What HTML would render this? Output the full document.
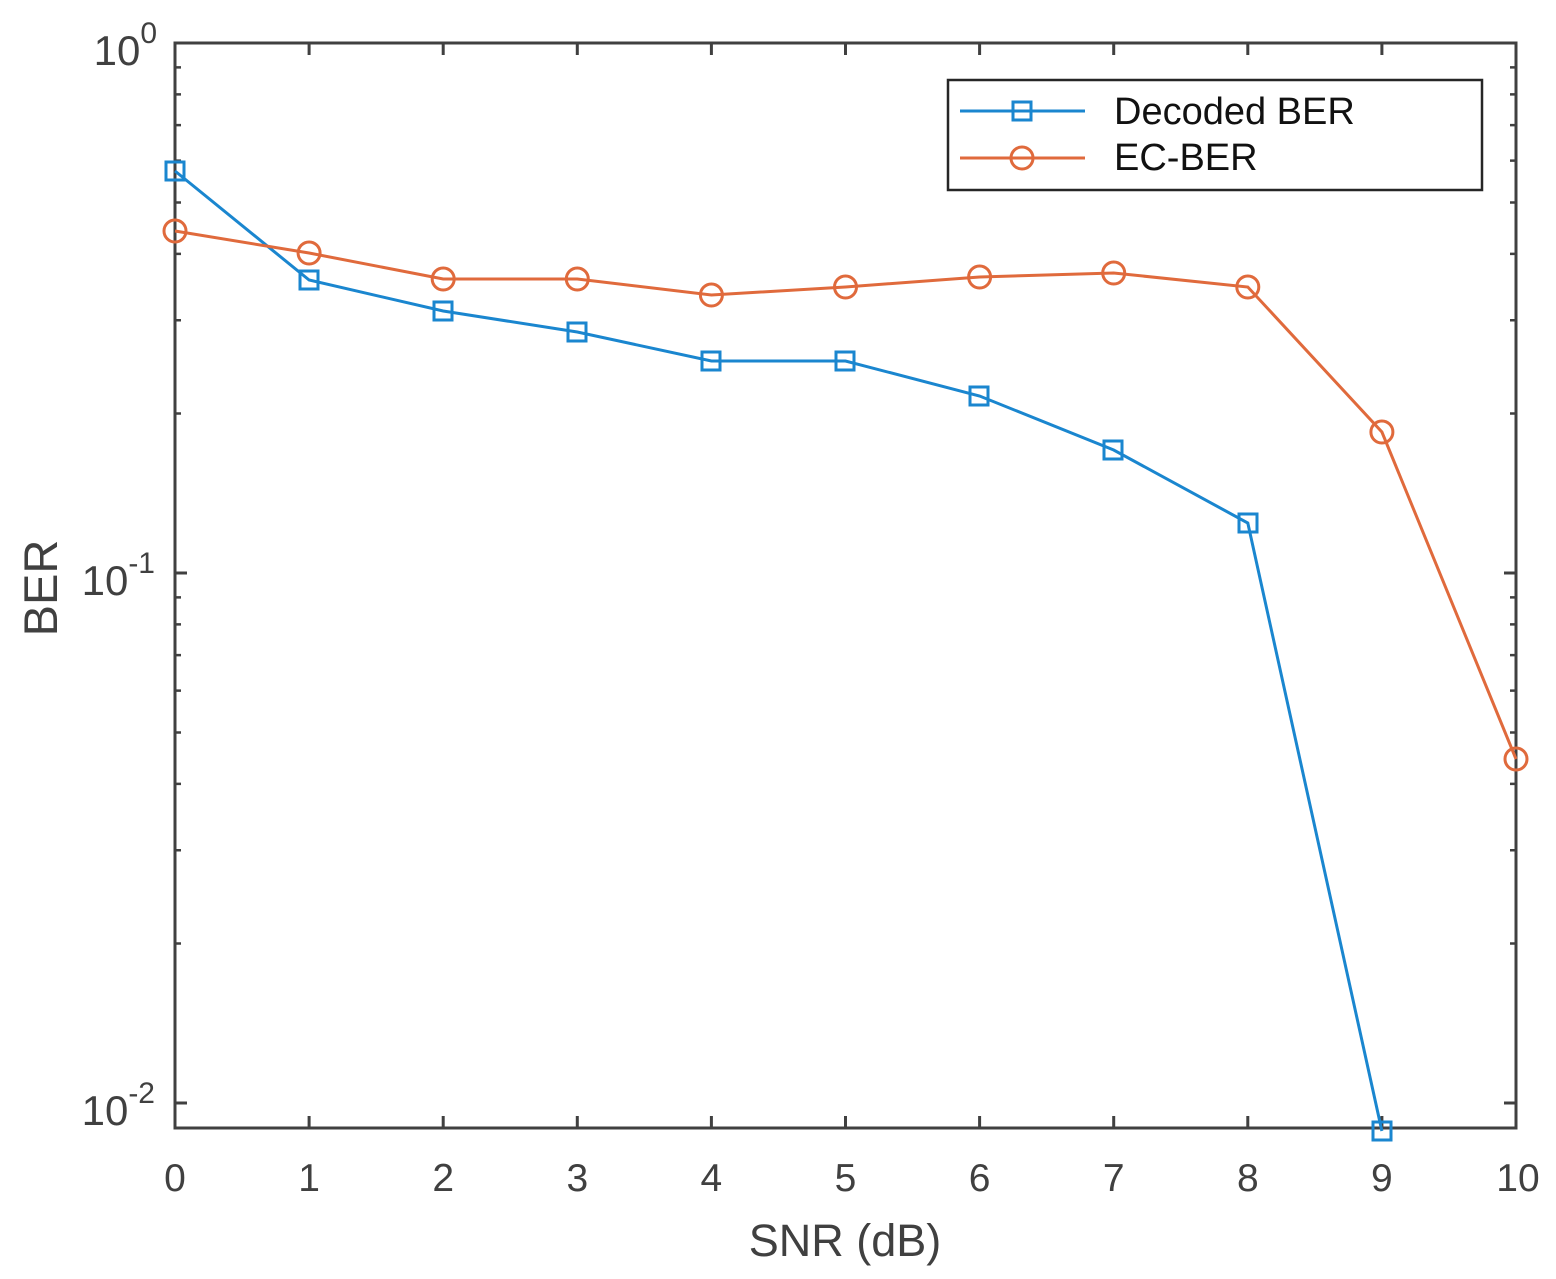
<!DOCTYPE html>
<html><head><style>body{margin:0;background:#fff}svg{display:block}text{font-family:"Liberation Sans",sans-serif;fill:#404040}</style></head>
<body>
<svg width="1556" height="1279" viewBox="0 0 1556 1279">
<g stroke="#404040" stroke-width="3" fill="none">
<rect x="175" y="43" width="1341" height="1085"/>
<path d="M175 43h12M1516 43h-12M175 573h12M1516 573h-12M175 1103h12M1516 1103h-12"/>
<path stroke-width="2.5" d="M175 413.5h6M175 320.2h6M175 253.9h6M175 202.5h6M175 160.6h6M175 125.1h6M175 94.4h6M175 67.4h6M175 943.5h6M175 850.2h6M175 783.9h6M175 732.5h6M175 690.6h6M175 655.1h6M175 624.4h6M175 597.4h6
M1516 413.5h-6M1516 320.2h-6M1516 253.9h-6M1516 202.5h-6M1516 160.6h-6M1516 125.1h-6M1516 94.4h-6M1516 67.4h-6M1516 943.5h-6M1516 850.2h-6M1516 783.9h-6M1516 732.5h-6M1516 690.6h-6M1516 655.1h-6M1516 624.4h-6M1516 597.4h-6"/>
<path d="M309.1 1128v-12M443.2 1128v-12M577.3 1128v-12M711.4 1128v-12M845.5 1128v-12M979.6 1128v-12M1113.7 1128v-12M1247.8 1128v-12M1381.9 1128v-12
M309.1 43v12M443.2 43v12M577.3 43v12M711.4 43v12M845.5 43v12M979.6 43v12M1113.7 43v12M1247.8 43v12M1381.9 43v12"/>
</g>
<g font-size="39" text-anchor="middle">
<text x="175" y="1191">0</text><text x="309.1" y="1191">1</text><text x="443.2" y="1191">2</text><text x="577.3" y="1191">3</text><text x="711.4" y="1191">4</text><text x="845.5" y="1191">5</text><text x="979.6" y="1191">6</text><text x="1113.7" y="1191">7</text><text x="1247.8" y="1191">8</text><text x="1381.9" y="1191">9</text><text x="1518" y="1191">10</text>
</g>
<g font-size="42" text-anchor="end">
<text x="157" y="65">10<tspan font-size="30" dy="-22">0</tspan></text>
<text x="155" y="595">10<tspan font-size="30" dy="-22">-1</tspan></text>
<text x="155" y="1125">10<tspan font-size="30" dy="-22">-2</tspan></text>
</g>
<text x="845" y="1256" font-size="45" text-anchor="middle">SNR (dB)</text>
<text transform="translate(57,588) rotate(-90)" font-size="47" text-anchor="middle">BER</text>
<g fill="none" stroke-width="3">
<polyline stroke="#1a86cf" points="175,171 309.1,280 443.2,311 577.3,332 711.4,361 845.5,361 979.6,396 1113.7,450 1247.8,523 1381.9,1131"/>
<polyline stroke="#e06a3c" points="175,231 309.1,253 443.2,279 577.3,279 711.4,295 845.5,287 979.6,277 1113.7,273 1247.8,287 1381.9,432 1516,759"/>
<g stroke="#1a86cf">
<rect x="166" y="162" width="18" height="18"/><rect x="300" y="271" width="18" height="18"/><rect x="434" y="302" width="18" height="18"/><rect x="568" y="323" width="18" height="18"/><rect x="702" y="352" width="18" height="18"/><rect x="836" y="352" width="18" height="18"/><rect x="970" y="387" width="18" height="18"/><rect x="1104" y="441" width="18" height="18"/><rect x="1239" y="514" width="18" height="18"/><rect x="1373" y="1122" width="18" height="18"/>
</g>
<g stroke="#e06a3c">
<circle cx="175" cy="231" r="11"/><circle cx="309.1" cy="253" r="11"/><circle cx="443.2" cy="279" r="11"/><circle cx="577.3" cy="279" r="11"/><circle cx="711.4" cy="295" r="11"/><circle cx="845.5" cy="287" r="11"/><circle cx="979.6" cy="277" r="11"/><circle cx="1113.7" cy="273" r="11"/><circle cx="1247.8" cy="287" r="11"/><circle cx="1381.9" cy="432" r="11"/><circle cx="1516" cy="759" r="11"/>
</g>
</g>
<rect x="948" y="80" width="534" height="110" fill="#fff" stroke="#262626" stroke-width="2.5"/>
<g fill="none" stroke-width="3">
<path stroke="#1a86cf" d="M960 111h125"/><rect stroke="#1a86cf" x="1013" y="102" width="18" height="18"/>
<path stroke="#e06a3c" d="M960 158h125"/><circle stroke="#e06a3c" cx="1022" cy="158" r="11"/>
</g>
<text x="1114" y="124" font-size="38" style="fill:#111">Decoded BER</text>
<text x="1114" y="170" font-size="38" style="fill:#111">EC-BER</text>
</svg>
</body></html>
